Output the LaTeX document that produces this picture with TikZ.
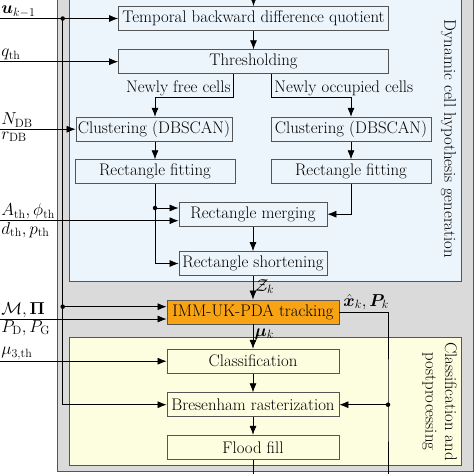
\documentclass[tikz,border=0pt]{standalone}
\usepackage{amsmath,bm}
\usetikzlibrary{arrows.meta}
\definecolor{outergray}{RGB}{218,218,218}
\definecolor{panelblue}{RGB}{237,245,252}
\definecolor{panelyellow}{RGB}{253,253,224}
\definecolor{immorange}{RGB}{247,163,20}
\definecolor{edgegray}{RGB}{85,85,85}
\begin{document}
\begin{tikzpicture}[x=1pt,y=-1pt, font=\fontsize{16.8}{19}\selectfont,
  box/.style={draw=edgegray, line width=0.8pt, minimum height=24pt, inner sep=0pt, anchor=center},
  arr/.style={-{Latex[length=9pt,width=7pt]}, line width=0.7pt},
  ln/.style={line width=0.7pt},
  lbl/.style={inner sep=1.2pt},
  dot/.style={circle, fill, inner sep=0pt, minimum size=4.5pt},
  panel/.style={draw=edgegray, line width=0.8pt}]
\useasboundingbox (0,0) rectangle (474,474);
\begin{scope}
\clip (0,0) rectangle (474,474);
\draw[panel, fill=outergray] (57.3,-10) rectangle (473.5,471);
\draw[panel, fill=panelblue] (69.3,-10) rectangle (461.7,281.7);
\draw[panel, fill=panelyellow] (69.3,337.3) rectangle (461,465);

% boxes
\node[box, minimum width=270pt] (tbd) at (253.5,18.5) {Temporal backward difference quotient};
\node[box, minimum width=270pt] (thr) at (253.5,61.7) {Thresholding};
\node[box, minimum width=156pt] (clL) at (154,129.2) {Clustering (DBSCAN)};
\node[box, minimum width=160pt] (clR) at (351,129.2) {Clustering (DBSCAN)};
\node[box, minimum width=160pt] (fitL) at (155,171.7) {Rectangle fitting};
\node[box, minimum width=160pt] (fitR) at (351,171.7) {Rectangle fitting};
\node[box, minimum width=148pt] (merge) at (253,214.2) {Rectangle merging};
\node[box, minimum width=148pt] (short) at (253,263.5) {Rectangle shortening};
\node[box, minimum width=172pt, fill=immorange] (imm) at (253,312) {IMM-UK-PDA tracking};
\node[box, minimum width=172pt] (cls) at (253,361.2) {Classification};
\node[box, minimum width=172pt] (bres) at (253,404.7) {Bresenham rasterization};
\node[box, minimum width=172pt] (flood) at (253,447.2) {Flood fill};

% panel titles
\node[rotate=-90] (dyn) at (448.5,139) {Dynamic cell hypothesis generation};
\node[rotate=-90, align=center, font=\fontsize{16.8}{19.5}\selectfont] (cpp) at (439.5,401.5) {Classification and\\postprocessing};

% coordinates
\coordinate (topin) at (253.5,-14);
\coordinate (udot) at (62.7,18.5);
\coordinate (mdot) at (62.7,306.7);
\coordinate (fl) at (155,97.7);
\coordinate (fo) at (351,97.7);
\coordinate (fdot) at (155,208);
\coordinate (xdot) at (388,404.7);
\coordinate (xend) at (388,480);
\coordinate (fend) at (253,480);

% main flow
\draw[arr] (topin) -- (tbd.north);
\draw[arr] (tbd.south) -- (thr.north);
\draw[arr] ([xshift=-20pt]thr.south) |- (fl) -- (clL.north -| fl);
\draw[arr] ([xshift=17.8pt]thr.south) |- (fo) -- (clR.north);
\draw[arr] (clL.south -| fitL.north) -- (fitL.north);
\draw[arr] (clR.south) -- (fitR.north);
\draw[arr] (fitL.south) |- (short.west);
\draw[arr] (fdot) -- (fdot -| merge.west);
\draw[arr] (fitR.south) |- (merge.east);
\draw[arr] (merge.south) -- (short.north);
\draw[arr] (short.south) -- node[right, lbl, pos=0.45] {$\mathcal{Z}_k$} (imm.north);
\draw[arr] (imm.south) -- node[right, lbl, pos=0.4] {$\bm{\mu}_k$} (cls.north);
\draw[arr] (cls.south) -- (bres.north);
\draw[arr] (bres.south) -- (flood.north);
\draw[ln] (flood.south) -- (fend);
\draw[ln] (imm.east) -| (xdot) -- (xend);
\draw[arr] (xdot) -- (bres.east);
\node[anchor=south west, lbl] (xlab) at (342,311) {$\hat{\bm{x}}_k,\bm{P}_k$};

% left inputs
\draw[arr] (0,18.5) -- (tbd.west);
\draw[ln] (udot) -- (mdot);
\draw[arr] (mdot) |- (bres.west);
\draw[arr] (mdot) -- (mdot -| imm.west);
\draw[arr] (0,61.7) -- (thr.west);
\draw[arr] (0,129.2) -- (clL.west);
\draw[arr] (0,220.7) -- (merge.west |- 0,220.7);
\draw[arr] (0,319) -- (imm.west |- 0,319);
\draw[arr] (0,361.2) -- (cls.west);

\node[dot] (d1) at (udot) {};
\node[dot] (d2) at (mdot) {};
\node[dot] (d3) at (fdot) {};
\node[dot] (d4) at (xdot) {};

% labels
\node[anchor=south west, lbl] (lu) at (0,18.5) {$\bm{u}_{k-1}$};
\node[anchor=south west, lbl] (lq) at (0,61.7) {$q_{\mathrm{th}}$};
\node[anchor=south west, lbl] (ln1) at (0,128.5) {$N_{\mathrm{DB}}$};
\node[anchor=north west, lbl] (lr) at (0,130.5) {$r_{\mathrm{DB}}$};
\node[anchor=south west, lbl] (la) at (0,220.7) {$A_{\mathrm{th}},\phi_{\mathrm{th}}$};
\node[anchor=north west, lbl] (ld) at (0,220.7) {$d_{\mathrm{th}},p_{\mathrm{th}}$};
\node[anchor=south west, lbl] (lm) at (0,319) {$\mathcal{M},\bm{\Pi}$};
\node[anchor=north west, lbl] (lp) at (0,319) {$P_{\mathrm{D}},P_{\mathrm{G}}$};
\node[anchor=south west, lbl] (lmu) at (0,361.2) {$\mu_{3,\mathrm{th}}$};
\node[anchor=south east, lbl] (lfree) at (232,97.7) {Newly free cells};
\node[anchor=south west, lbl] (locc) at (273,97.7) {Newly occupied cells};
\end{scope}
\end{tikzpicture}
\end{document}
